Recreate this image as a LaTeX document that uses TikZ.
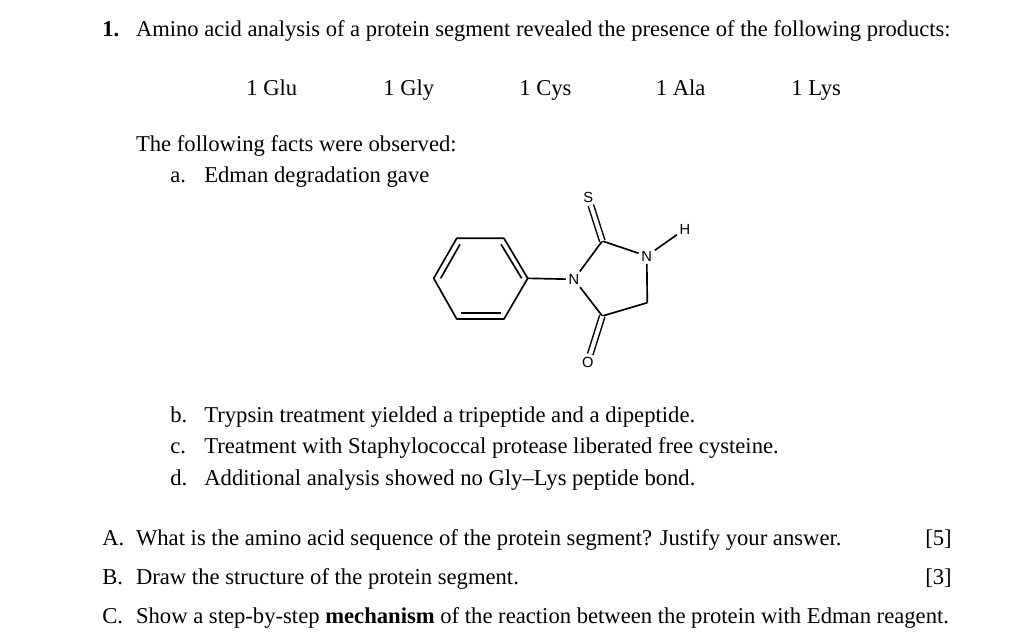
\documentclass[tikz,border=0pt]{standalone}
\usepackage{fontspec}
\setmainfont{Liberation Serif}
\setsansfont{Liberation Sans}
\usetikzlibrary{calc}
\begin{document}
\begin{tikzpicture}
  [x=0.75pt,y=-0.75pt,line width=1.25pt,
   every node/.style={inner sep=0pt,anchor=base west,font=\fontsize{16.98}{20}\selectfont},
   atom/.style={anchor=center,inner sep=1.5pt,font=\sffamily\fontsize{11}{13}\selectfont},
   dbl/.style={double,double distance=3pt,line width=1.1pt}]
\useasboundingbox (0,0) rectangle (1024,637);
% question
\node (q1) at (101.5,36) {\textbf{1.}};
\node[font=\fontsize{16.91}{20}\selectfont] (stem) at (135.2,36) {Amino acid analysis of a protein segment revealed the presence of the following products:};
\node (glu) at (245.5,95.5) {1 Glu};
\node (gly) at (382.5,95.5) {1 Gly};
\node (cys) at (518.5,95.5) {1 Cys};
\node (ala) at (655,95.5) {1 Ala};
\node (lys) at (790.5,95.5) {1 Lys};
\node (facts) at (135.2,151.5) {The following facts were observed:};
\node (la) at (169.5,182.7) {a.};
\node (fa) at (203.5,182.7) {Edman degradation gave};
\node (lb) at (169.5,422) {b.};
\node (fb) at (203.5,422) {Trypsin treatment yielded a tripeptide and a dipeptide.};
\node (lc) at (169.5,453) {c.};
\node (fc) at (203.5,453) {Treatment with Staphylococcal protease liberated free cysteine.};
\node (ld) at (169.5,485) {d.};
\node (fd) at (203.5,485) {Additional analysis showed no Gly--Lys peptide bond.};
\node (pa) at (101.5,545.5) {A.};
\node (qa) at (135.2,545.5) {What is the amino acid sequence of the protein segment? Justify your answer.};
\node (ma) at (924.5,545.5) {[5]};
\node (pb) at (101.5,584.5) {B.};
\node (qb) at (135.2,584.5) {Draw the structure of the protein segment.};
\node (mb) at (924.5,584.5) {[3]};
\node (pc) at (101.5,623.5) {C.};
\node (qc) at (135.2,623.5) {Show a step-by-step \textbf{mechanism} of the reaction between the protein with Edman reagent.};
% ring atoms
\coordinate (b1) at (433.7,278.3);
\coordinate (b2) at (456.7,238.3);
\coordinate (b3) at (504,238.3);
\coordinate (b4) at (527.7,278.3);
\coordinate (b5) at (504,319);
\coordinate (b6) at (456.7,319);
\coordinate (c2) at (602.3,241);
\coordinate (c4) at (602.3,316);
\coordinate (c5) at (647.3,302.7);
\node[atom] (n1) at (574,279.3) {N};
\node[atom] (n3) at (646.7,256) {N};
\node[atom] (h) at (685,229) {H};
\node[atom] (s) at (588.3,197.3) {S};
\node[atom] (o) at (587.7,362.3) {O};
% inner lines of the benzene ring
\coordinate (i1) at (440.7,278.3);
\coordinate (i2) at (460,244.3);
\coordinate (i3) at (501,244.3);
\coordinate (i4) at (521.7,278.3);
\coordinate (i5) at (501,313.3);
\coordinate (i6) at (460.7,313.3);
\draw[line join=round] (b1) -- (b2) -- (b3) -- (b4) -- (b5) -- (b6) -- cycle;
\draw (i1) -- (i2);
\draw (i3) -- (i4);
\draw (i5) -- (i6);
\draw (b4) -- (n1);
\draw (n1) -- (c2);
\draw (c2) -- (n3);
\draw (n3) -- (c5);
\draw (c5) -- (c4);
\draw (c4) -- (n1);
\draw (n3) -- (h);
\draw[dbl] (c2) -- (s);
\draw[dbl] (c4) -- (o);
\end{tikzpicture}
\end{document}
